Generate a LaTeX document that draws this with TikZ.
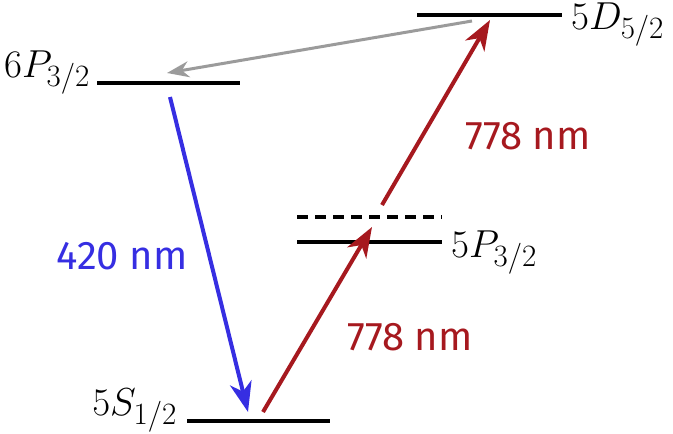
\RequirePackage{fix-cm}
\documentclass[tikz,border=0pt]{standalone}
\usepackage{fontspec}
\newfontfamily\labelfont{Fira Sans}
\usetikzlibrary{arrows.meta}
\DeclareMathSizes{39}{39}{31}{24}
\definecolor{lblue}{RGB}{54,46,226}
\definecolor{lred}{RGB}{166,25,31}
\definecolor{lgray}{RGB}{155,155,155}
\tikzset{
  level/.style={line width=4pt, black},
  dlevel/.style={line width=4pt, black, dash pattern=on 11pt off 7pt},
  lvlabel/.style={inner sep=0pt, font=\fontsize{39}{45}\selectfont},
  wlabel/.style={inner sep=0pt, font=\labelfont\fontsize{40}{46}\selectfont},
  redarrow/.style={line width=4pt, lred, -{Stealth[length=30pt, width=22pt, inset=9pt]}},
  bluearrow/.style={line width=4pt, lblue, -{Stealth[length=30pt, width=22pt, inset=9pt]}},
  grayarrow/.style={line width=3pt, lgray, -{Stealth[length=22pt, width=16pt, inset=7pt]}},
}
\begin{document}
\begin{tikzpicture}[x=1pt, y=-1pt]
\useasboundingbox (0,0) rectangle (673,434);
% levels
\coordinate (d1) at (417,15);  \coordinate (d2) at (562,15);
\coordinate (p61) at (97,83);  \coordinate (p62) at (240,83);
\coordinate (pv1) at (297,217); \coordinate (pv2) at (442,217);
\coordinate (p51) at (297,242); \coordinate (p52) at (442,242);
\coordinate (s1) at (187,421); \coordinate (s2) at (330,421);
\draw[level] (d1) -- (d2);
\draw[level] (p61) -- (p62);
\draw[dlevel] (pv1) -- (pv2);
\draw[level] (p51) -- (p52);
\draw[level] (s1) -- (s2);
% labels
\node[lvlabel, anchor=base west] (ld) at (571,29) {$5D_{5/2}$};
\node[lvlabel, anchor=base east] (lp6) at (90,77) {$6P_{3/2}$};
\node[lvlabel, anchor=base west] (lp5) at (451,257) {$5P_{3/2}$};
\node[lvlabel, anchor=base east] (ls) at (177,415) {$5S_{1/2}$};
% arrow endpoints
\coordinate (ga) at (472,21); \coordinate (gb) at (167,73);
\coordinate (ba) at (170,97); \coordinate (bb) at (248,412);
\coordinate (ra) at (263,412); \coordinate (rb) at (372,227);
\coordinate (rc) at (382,205); \coordinate (rd) at (490,20);
\draw[grayarrow] (ga) -- (gb);
\draw[bluearrow] (ba) -- (bb);
\draw[redarrow] (ra) -- (rb);
\draw[redarrow] (rc) -- (rd);
% wavelength labels
\node[wlabel, text=lblue] (w1) at (122,256) {420 nm};
\node[wlabel, text=lred] (w2) at (410,337) {778 nm};
\node[wlabel, text=lred] (w3) at (528,136) {778 nm};
\end{tikzpicture}
\end{document}
